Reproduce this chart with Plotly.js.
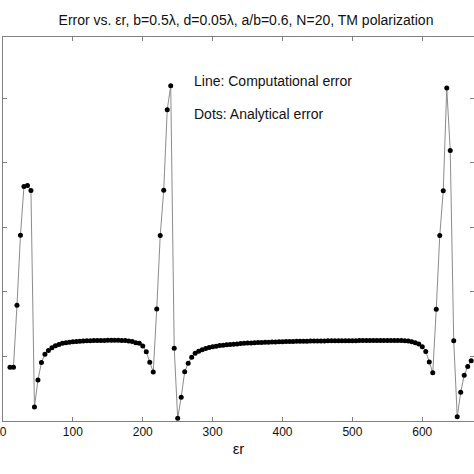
<!DOCTYPE html>
<html>
<head>
<meta charset="utf-8">
<script src="https://cdn.plot.ly/plotly-3.0.1.min.js"></script>
<style>html,body{margin:0;padding:0;background:#fff;}#chart{width:474px;height:474px;}</style>
</head>
<body>
<div id="chart"></div>
<script>
// εr sample points
var epsR = [10,15,20,25,30,35,40,45,50,55,60,65,70,75,80,85,90,95,100,105,110,115,120,125,130,135,140,145,150,155,160,165,170,175,180,185,190,195,200,205,210,215,220,225,230,235,240,245,250,255,260,265,270,275,280,285,290,295,300,305,310,315,320,325,330,335,340,345,350,355,360,365,370,375,380,385,390,395,400,405,410,415,420,425,430,435,440,445,450,455,460,465,470,475,480,485,490,495,500,505,510,515,520,525,530,535,540,545,550,555,560,565,570,575,580,585,590,595,600,605,610,615,620,625,630,635,640,645,650,655,660,665,670];
// Computational error (line)
var computationalError = [0.833,0.833,1.794,2.879,3.633,3.648,3.571,0.217,0.636,0.905,1.034,1.094,1.134,1.165,1.187,1.203,1.213,1.222,1.227,1.232,1.237,1.240,1.242,1.245,1.246,1.247,1.248,1.249,1.250,1.250,1.250,1.250,1.249,1.246,1.240,1.230,1.214,1.203,1.163,1.074,0.912,0.760,1.736,2.873,3.577,4.822,5.194,1.127,0.042,0.367,0.764,0.895,0.988,1.050,1.082,1.105,1.124,1.139,1.150,1.160,1.168,1.175,1.181,1.186,1.191,1.195,1.199,1.203,1.207,1.210,1.213,1.215,1.218,1.220,1.222,1.224,1.226,1.228,1.229,1.231,1.232,1.233,1.234,1.235,1.236,1.237,1.238,1.239,1.240,1.241,1.241,1.242,1.242,1.243,1.243,1.244,1.244,1.245,1.245,1.245,1.246,1.246,1.246,1.247,1.247,1.247,1.247,1.248,1.248,1.248,1.248,1.248,1.248,1.243,1.238,1.228,1.213,1.194,1.152,1.077,0.916,0.749,1.732,2.873,3.566,5.158,4.191,1.245,0.067,0.445,0.709,0.843,0.932];
// Analytical error (dots)
var analyticalError = [0.833,0.833,1.794,2.879,3.633,3.648,3.571,0.217,0.636,0.905,1.034,1.094,1.134,1.165,1.187,1.203,1.213,1.222,1.227,1.232,1.237,1.240,1.242,1.245,1.246,1.247,1.248,1.249,1.250,1.250,1.250,1.250,1.249,1.246,1.240,1.230,1.214,1.203,1.163,1.074,0.912,0.760,1.736,2.873,3.577,4.822,5.194,1.127,0.042,0.367,0.764,0.895,0.988,1.050,1.082,1.105,1.124,1.139,1.150,1.160,1.168,1.175,1.181,1.186,1.191,1.195,1.199,1.203,1.207,1.210,1.213,1.215,1.218,1.220,1.222,1.224,1.226,1.228,1.229,1.231,1.232,1.233,1.234,1.235,1.236,1.237,1.238,1.239,1.240,1.241,1.241,1.242,1.242,1.243,1.243,1.244,1.244,1.245,1.245,1.245,1.246,1.246,1.246,1.247,1.247,1.247,1.247,1.248,1.248,1.248,1.248,1.248,1.248,1.243,1.238,1.228,1.213,1.194,1.152,1.077,0.916,0.749,1.732,2.873,3.566,5.158,4.191,1.245,0.067,0.445,0.709,0.843,0.932];
var xTickVals = [0,100,200,300,400,500,600];
var xTickText = ['0','100','200','300','400','500','600'];
var yTickVals = [0,1,2,3,4,5];

var traces = [
  {x: epsR, y: computationalError, type: 'scatter', mode: 'lines',
   line: {color: '#8c8c8c', width: 1}, hoverinfo: 'skip', showlegend: false},
  {x: epsR, y: analyticalError, type: 'scatter', mode: 'markers',
   marker: {color: '#000000', size: 5}, showlegend: false}
];

var axisStyle = {
  showline: true, linecolor: '#808080', linewidth: 1,
  ticks: 'inside', ticklen: 4, tickcolor: '#808080', tickwidth: 1,
  mirror: 'ticks', showgrid: false, zeroline: false
};

var layout = {
  width: 474, height: 474,
  margin: {l: 3, r: 0, t: 37, b: 53},
  paper_bgcolor: '#ffffff', plot_bgcolor: '#ffffff',
  font: {family: 'Liberation Sans, Arial, sans-serif', color: '#000000', size: 12},
  title: {text: 'Error vs. εr, b=0.5λ, d=0.05λ, a/b=0.6, N=20, TM polarization',
          font: {size: 14, color: '#111111'}, xref: 'paper', x: 0.516, xanchor: 'center',
          yref: 'container', y: 0.958, yanchor: 'middle'},
  xaxis: Object.assign({}, axisStyle, {
    range: [0, 674], tickvals: xTickVals, ticktext: xTickText,
    tickfont: {size: 12, color: '#111111'}, ticklabeloverflow: 'allow',
    title: {text: 'εr', font: {size: 15, color: '#111111'}, standoff: 5}
  }),
  yaxis: Object.assign({}, axisStyle, {
    range: [0, 5.95], tickvals: yTickVals, showticklabels: false
  }),
  annotations: [
    {text: 'Line: Computational error', xref: 'paper', yref: 'paper',
     x: (192 - 3) / 471, xanchor: 'left', y: (421 - 81) / 384, yanchor: 'middle',
     showarrow: false, font: {size: 14, color: '#111111'}},
    {text: 'Dots: Analytical error', xref: 'paper', yref: 'paper',
     x: (192 - 3) / 471, xanchor: 'left', y: (421 - 114) / 384, yanchor: 'middle',
     showarrow: false, font: {size: 14, color: '#111111'}}
  ]
};

Plotly.newPlot('chart', traces, layout, {staticPlot: true, displayModeBar: false});
</script>
</body>
</html>
